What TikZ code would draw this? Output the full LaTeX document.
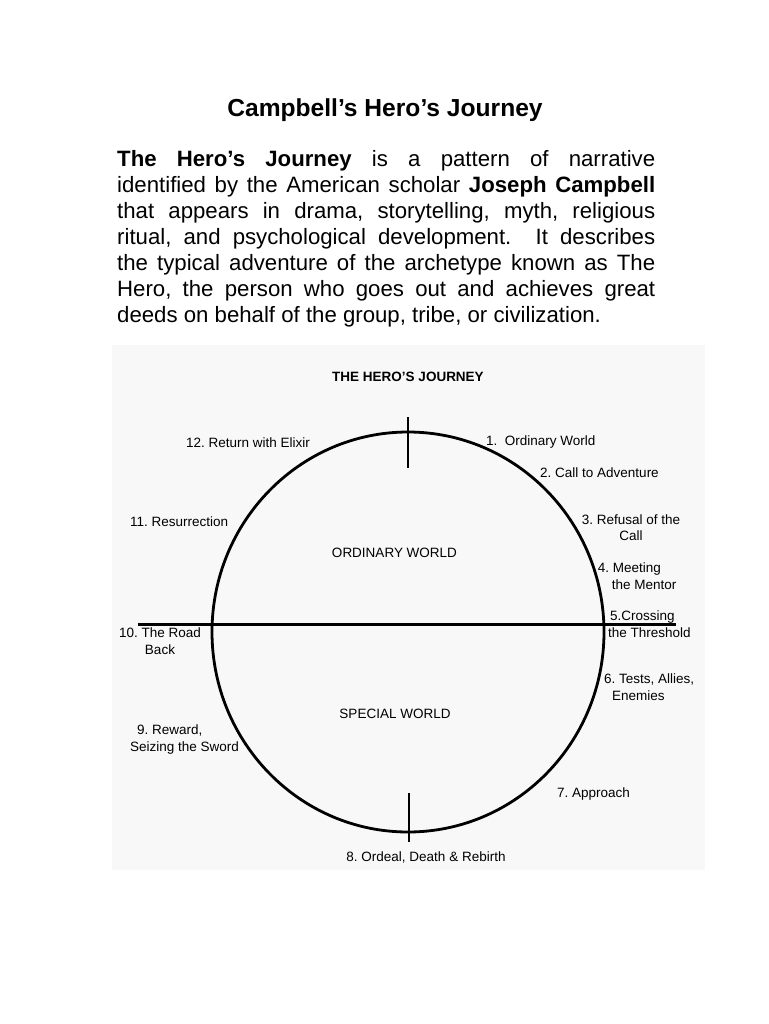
\documentclass[tikz,border=0pt]{standalone}
\usepackage{fontspec}
\setmainfont{Liberation Sans}
\usetikzlibrary{shapes.geometric}
\definecolor{panel}{HTML}{F8F8F8}
\begin{document}
\frenchspacing
\begin{tikzpicture}[x=1pt,y=-1pt,
  lbl/.style={font=\fontsize{13.5}{16.2}\selectfont, inner sep=0pt, text=black},
  heavy/.style={line width=2.8pt, draw=black},
  ]
\useasboundingbox (0,0) rectangle (768,1024);
\fill[white] (0,0) rectangle (768,1024);

% heading and paragraph
\node[inner sep=0pt, anchor=base, font=\fontsize{24.6}{30}\selectfont\bfseries] (title) at (385,117) {Campbell’s Hero’s Journey};
\node[anchor=north west, inner sep=0pt, text width=538pt, align=justify,
      font=\fontsize{22.2}{26}\selectfont] (para) at (117,150.5)
{\textbf{The Hero’s Journey} is a pattern of narrative\linebreak
identified by the American scholar \textbf{Joseph Campbell}\linebreak
that appears in drama, storytelling, myth, religious\linebreak
ritual, and psychological development.\ \ It describes\linebreak
the typical adventure of the archetype known as The\linebreak
Hero, the person who goes out and achieves great\linebreak
deeds on behalf of the group, tribe, or civilization.};

% diagram panel
\fill[panel] (112,345) rectangle (705,870);
\node[lbl, anchor=base, font=\fontsize{13.5}{16}\selectfont\bfseries] (dtitle) at (408,381) {THE HERO’S JOURNEY};

\coordinate (cc) at (408,632);
\draw[heavy] (cc) ellipse [x radius=196pt, y radius=200pt];
\coordinate (tt) at (408,417);
\coordinate (tb) at (408,468);
\coordinate (bt) at (409,793);
\coordinate (bb) at (409,842);
\coordinate (hl) at (138,624.5);
\coordinate (hr) at (676,624.5);
\draw[heavy] (tt) -- (tb);
\draw[heavy] (bt) -- (bb);
\draw[heavy] (hl) -- (hr);

\node[lbl, anchor=base] (ow) at (394.5,557) {ORDINARY WORLD};
\node[lbl, anchor=base] (sw) at (395,718) {SPECIAL WORLD};

\node[lbl, anchor=base west] (s1) at (486,445) {1.\ \ Ordinary World};
\node[lbl, anchor=base west] (s2) at (540,477) {2. Call to Adventure};
\node[lbl, anchor=base, align=center] (s3) at (631,540.2) {3. Refusal of the\\Call};
\node[lbl, anchor=base west, align=left] (s4) at (597.7,589) {4. Meeting\\\hspace*{14pt}the Mentor};
\node[lbl, anchor=base west, align=left] (s5) at (608,637) {\hspace*{2pt}5.Crossing\\the Threshold};
\node[lbl, anchor=base west, align=left] (s6) at (604,700) {6. Tests, Allies,\\\hspace*{8pt}Enemies};
\node[lbl, anchor=base west] (s7) at (557,797) {7. Approach};
\node[lbl, anchor=base] (s8) at (426,861) {8. Ordeal, Death \& Rebirth};
\node[lbl, anchor=base west, align=left] (s9) at (130,751) {\hspace*{7pt}9. Reward,\\Seizing the Sword};
\node[lbl, anchor=base, align=center] (s10) at (160,654) {10. The Road\\Back};
\node[lbl, anchor=base west] (s11) at (130,526) {11. Resurrection};
\node[lbl, anchor=base west] (s12) at (186,447) {12. Return with Elixir};
\end{tikzpicture}
\end{document}
